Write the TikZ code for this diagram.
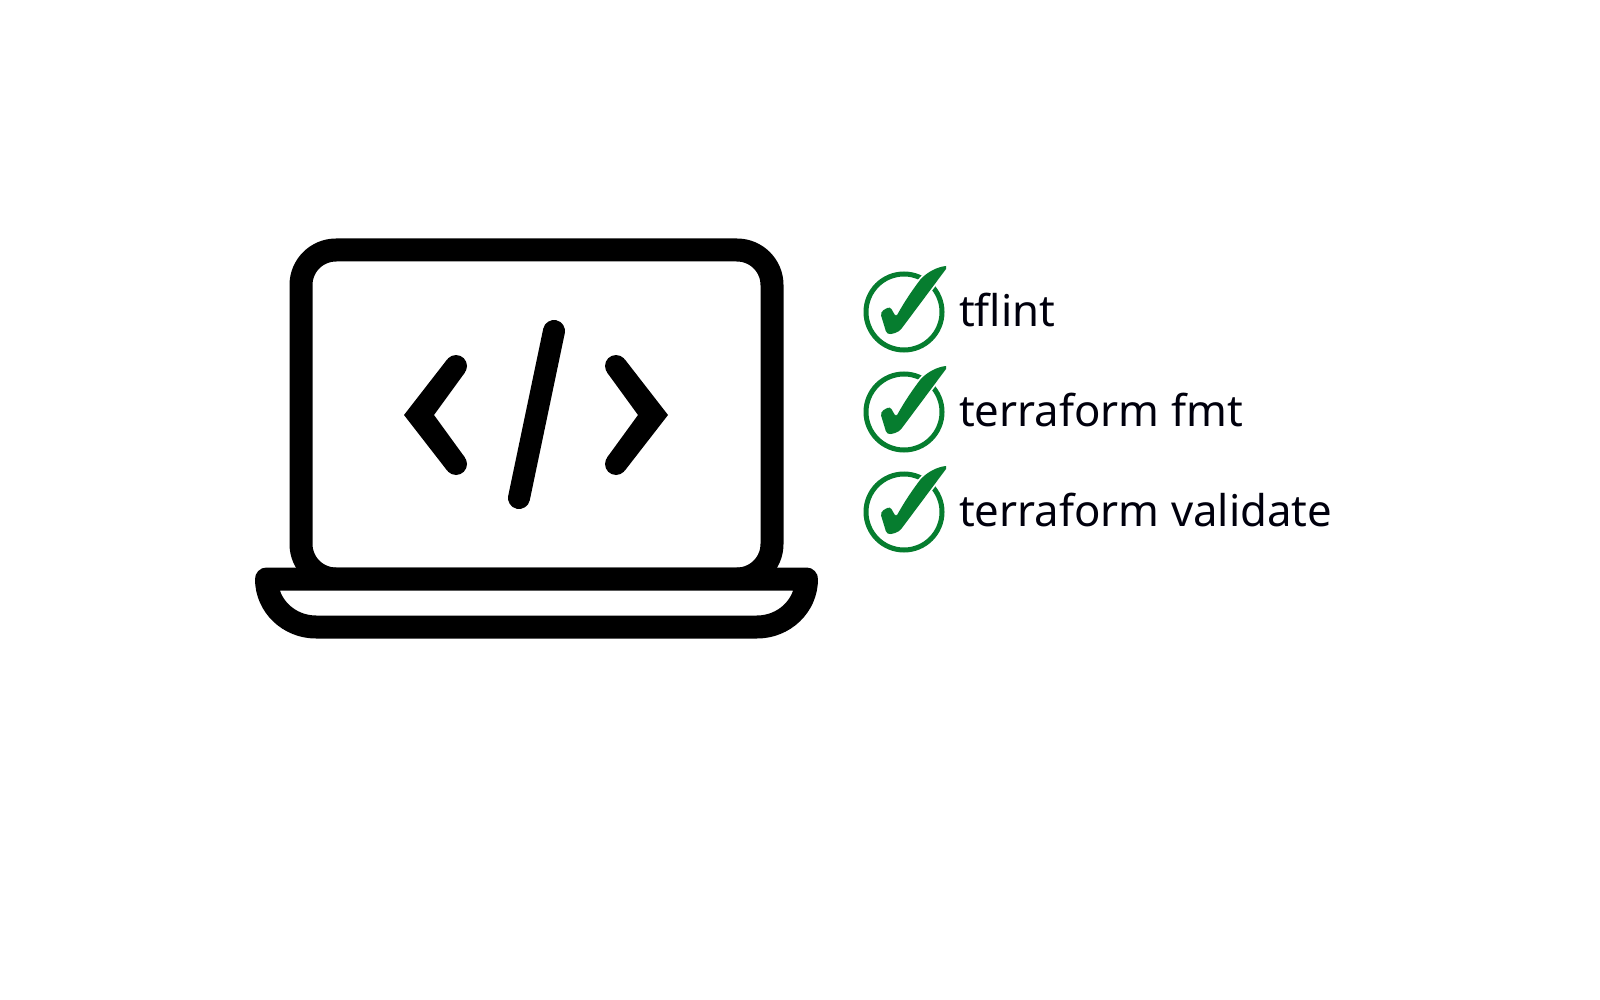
\documentclass[tikz,border=0pt]{standalone}
\usepackage{fontspec}
\setmainfont{Noto Sans}
\definecolor{chk}{HTML}{067D2F}
\tikzset{
  lap/.style={draw=black,line width=23pt,line join=round,line cap=round},
  symfill/.style={fill=black},
  slash/.style={draw=black,line width=22pt,line cap=round},
  ring/.style={draw=chk,line width=5pt,fill=white},
  lbl/.style={anchor=base west,font=\fontsize{43.7}{50}\selectfont,text=black!95!blue,inner sep=0pt}
}
\newcommand{\chkmark}[3]{%
  \node[ring,circle,minimum size=76pt,inner sep=0pt] (#1) at (#2,#3) {};
  \begin{scope}[shift={(#2,#3)}]
  \fill[chk,preaction={draw=white,line width=3.5pt},rounded corners=3pt] (-24,0) -- (-14,-5.5) -- (-8,5) [sharp corners] .. controls (2,-13) and (10,-24) .. (16,-32) .. controls (22,-39) and (32,-45) .. (42,-46) -- (42,-43) [rounded corners=4pt] -- (-5,20) -- (-17,23) -- cycle;
  \end{scope}
}
\begin{document}
\begin{tikzpicture}[x=1pt,y=-1pt]
\useasboundingbox (0,0) rectangle (1600,1000);
\fill[white] (0,0) rectangle (1600,1000);
\draw[lap,rounded corners=35pt] (301,250) rectangle (772,579);
\draw[lap,fill=white] (266.5,579) -- (806.5,579) .. controls (806.5,606) and (784,627) .. (757,627) -- (316,627) .. controls (289,627) and (266.5,606) .. (266.5,579) -- cycle;
% left bracket
\fill[symfill] (404,415) -- (447.1,359.5) -- (464.9,372.5) -- (434,415) -- (464.9,457.5) -- (447.1,470.5) -- cycle;
\fill[symfill] (456,366) circle[radius=11pt];
\fill[symfill] (456,464) circle[radius=11pt];
% right bracket
\fill[symfill] (668,415) -- (624.9,359.5) -- (607.1,372.5) -- (638,415) -- (607.1,457.5) -- (624.9,470.5) -- cycle;
\fill[symfill] (616,366) circle[radius=11pt];
\fill[symfill] (616,464) circle[radius=11pt];
\draw[slash] (554,331) -- (519,498);
\chkmark{c1}{904}{312}
\chkmark{c2}{904}{412}
\chkmark{c3}{904}{512}
\node[lbl] (t1) at (959,326) {tflint};
\node[lbl] (t2) at (959,426) {terraform fmt};
\node[lbl] (t3) at (959,526) {terraform validate};
\end{tikzpicture}
\end{document}
